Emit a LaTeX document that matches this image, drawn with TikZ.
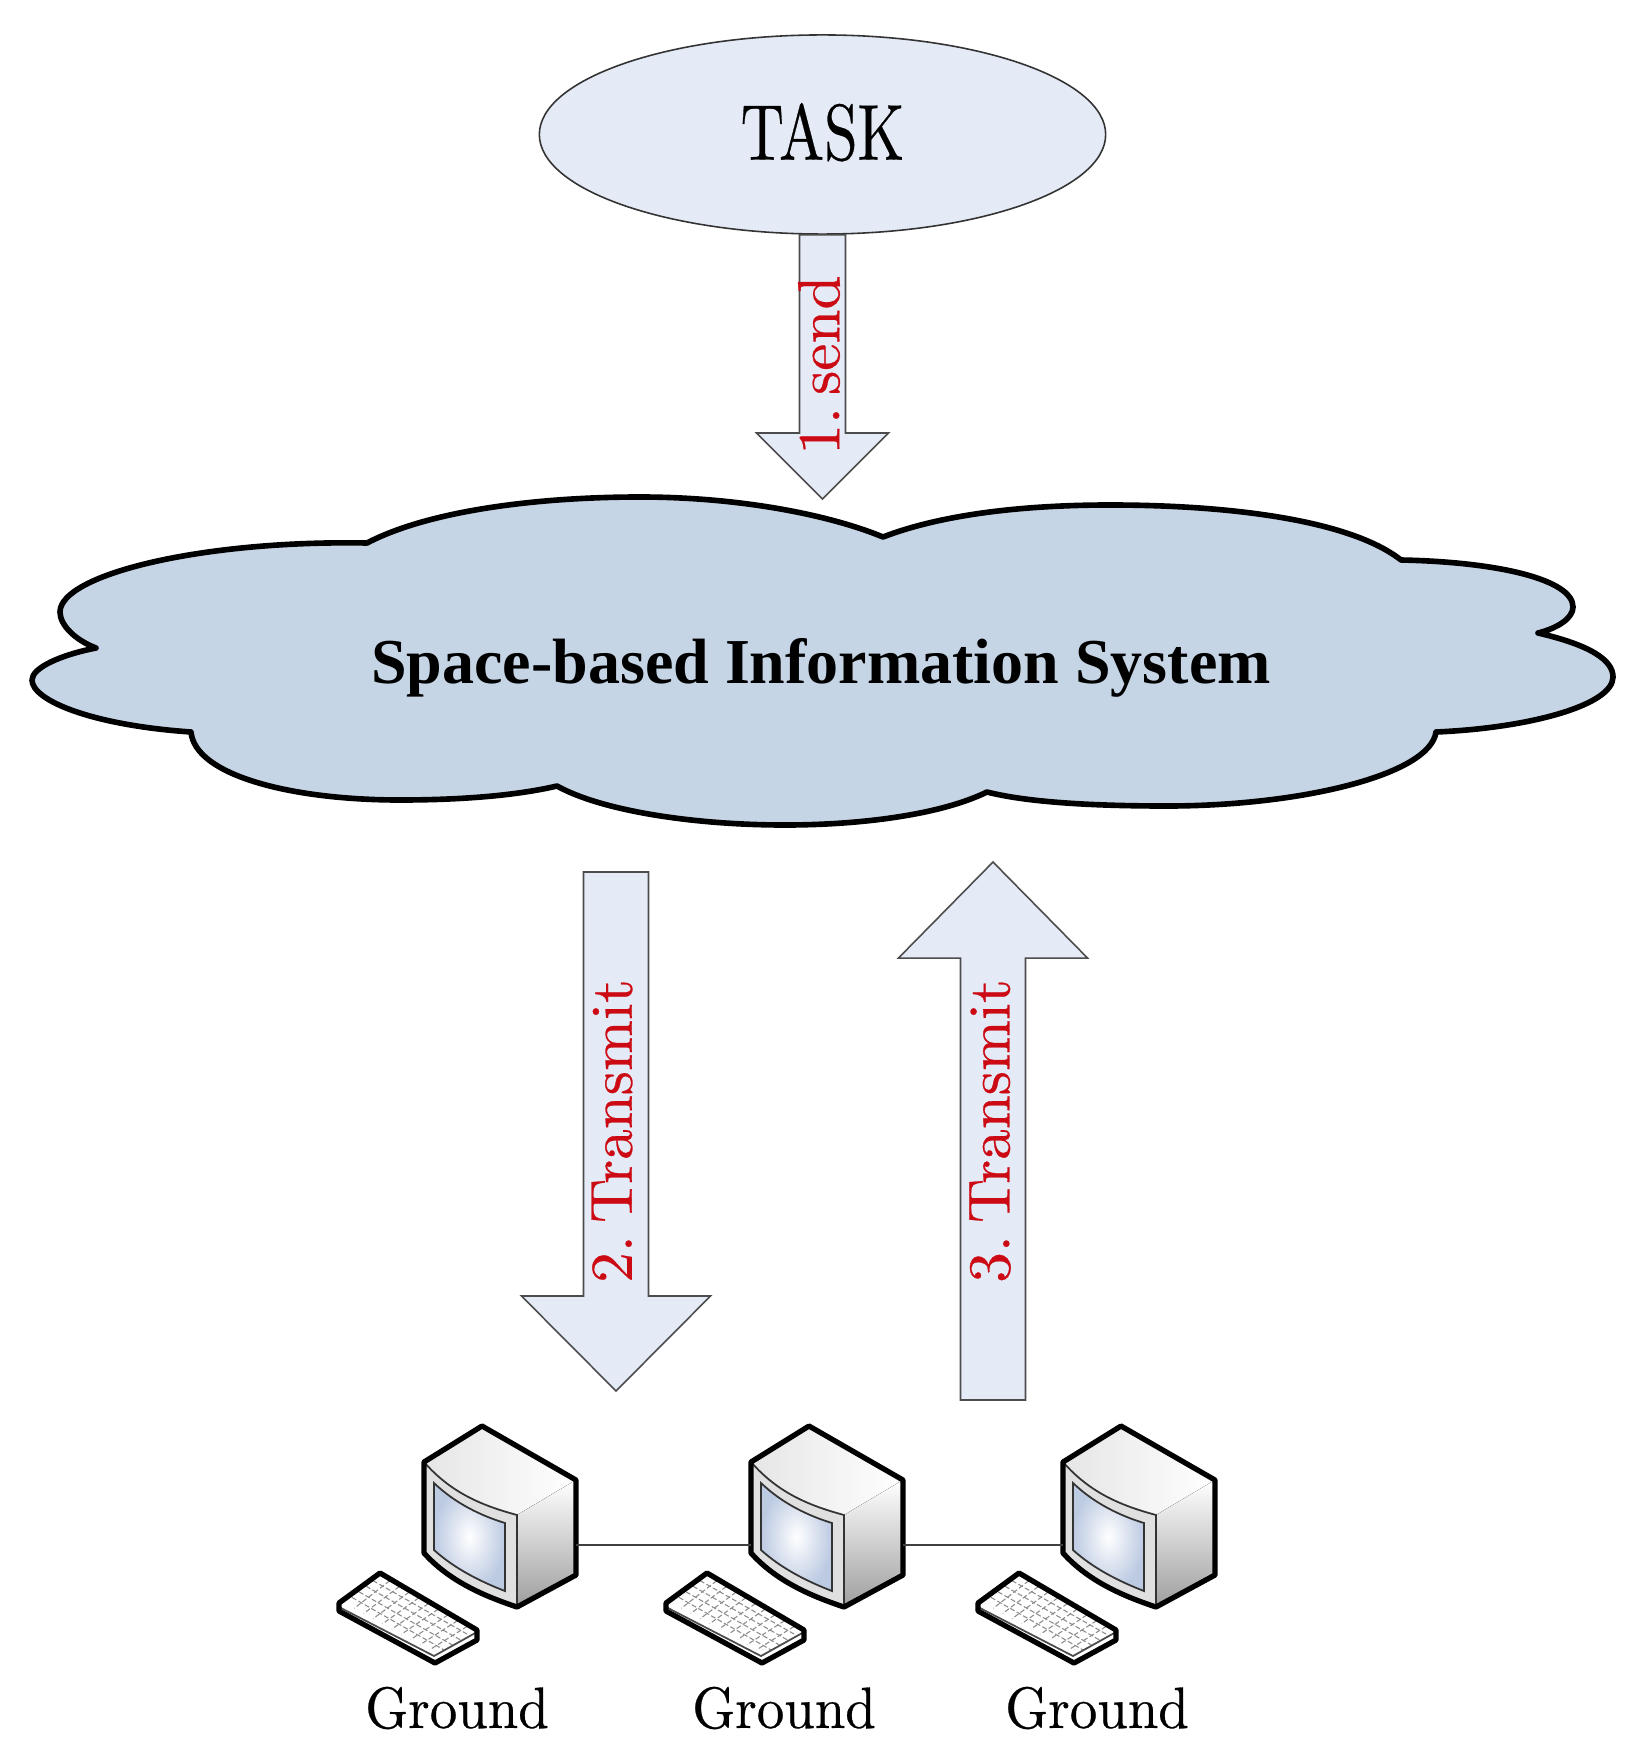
\documentclass[tikz,border=0pt]{standalone}
\usepackage{fontspec}
\usetikzlibrary{calc,shapes.geometric}
\newfontfamily\cloudfont{Liberation Serif}
\newfontfamily\labelfont{lmroman10-regular.otf}[FakeBold=0.45]
\definecolor{arrowfill}{HTML}{E4EBF6}
\definecolor{cloudfill}{HTML}{C6D5E6}
\definecolor{labelred}{HTML}{CC0A14}
\definecolor{screenblue}{HTML}{BCCAE2}
\tikzset{
  % one unit is one pixel of the reference
  x=0.01cm, y=-0.01cm,
  blockarrow/.style n args={3}{draw=black!70, line width=.45pt, fill=arrowfill, line join=miter,
    to path={
      ($(\tikztostart)!#1!90:(\tikztotarget)$)
      -- ($($(\tikztotarget)!#3!(\tikztostart)$)!#1!90:(\tikztotarget)$)
      -- ($($(\tikztotarget)!#3!(\tikztostart)$)!#2!90:(\tikztotarget)$)
      -- (\tikztotarget)
      -- ($($(\tikztotarget)!#3!(\tikztostart)$)!#2!-90:(\tikztotarget)$)
      -- ($($(\tikztotarget)!#3!(\tikztostart)$)!#1!-90:(\tikztotarget)$)
      -- ($(\tikztostart)!#1!-90:(\tikztotarget)$)
      -- cycle}},
  steplabel/.style={text=labelred, rotate=90, inner sep=0pt, font=\labelfont\fontsize{16.9}{18}\selectfont},
  groundlabel/.style={inner sep=0pt, font=\labelfont\fontsize{16.6}{18}\selectfont},
  pcline/.style={line width=1.5pt, line join=round},
  computer/.pic={
    % top and side faces
    \fill[left color=black!10, right color=white] (58,0) -- (152,54) -- (93,89)
      .. controls (60,80) and (28,68) .. (0,36) -- cycle;
    \fill[top color=white, bottom color=black!38] (152,54) -- (152,149) -- (93,181) -- (93,89) -- cycle;
    % front frame
    \fill[black!12] (0,36) .. controls (28,68) and (60,80) .. (93,89) -- (93,181)
      .. controls (60,170) and (25,155) .. (0,127) -- cycle;
    % screen
    \shade[inner color=white, outer color=screenblue, draw=black!80, line width=.5pt]
      (10,57) .. controls (32,78) and (58,90) .. (81,97) -- (81,165)
      .. controls (55,155) and (30,142) .. (10,124) -- cycle;
    \draw[black!80, line width=.5pt] (0,36) .. controls (28,68) and (60,80) .. (93,89) -- (93,181);
    \draw[pcline] (58,0) -- (152,54) -- (152,149) -- (93,181)
      .. controls (60,170) and (25,155) .. (0,127) -- (0,36) -- cycle;
    % keyboard
    \fill[white] (-44,147) -- (53,204) -- (53,214) -- (11,237) -- (-85,185) -- (-85,177) -- cycle;
    \foreach \u in {.1,.2,...,.91}
      \draw[black!45, line width=.3pt, dash pattern=on 1.4pt off .7pt]
        ({-44+97*\u},{149+57*\u}) -- ({-79+94*\u},{177+52*\u});
    \foreach \u in {.2,.4,.6,.8}
      \draw[black!45, line width=.3pt, dash pattern=on 1.4pt off .7pt]
        ({-44-35*\u},{149+28*\u}) -- ({53-41*\u},{204+25*\u});
    \draw[black!70, line width=.5pt] (-85,181) -- (10,230) -- (53,206);
    \draw[pcline] (-44,147) -- (53,204) -- (53,214) -- (11,237) -- (-85,185) -- (-85,177) -- cycle;
    \coordinate (-r) at (152,119);
    \coordinate (-l) at (0,119);
  },
}
\begin{document}
\begin{tikzpicture}
  \useasboundingbox (0,0) rectangle (1633,1761);

  % cloud
  \draw[line width=1.6pt, fill=cloudfill, line join=round]
    (367,543) .. controls (430,510) and (540,497) .. (640,497)
    .. controls (740,497) and (830,515) .. (883,537)
    .. controls (940,515) and (1020,505) .. (1110,505)
    .. controls (1230,505) and (1350,520) .. (1401,560)
    .. controls (1500,562) and (1573,580) .. (1573,607)
    .. controls (1573,618) and (1558,628) .. (1538,633)
    .. controls (1590,645) and (1613,660) .. (1613,677)
    .. controls (1613,705) and (1530,728) .. (1436,732)
    .. controls (1430,775) and (1300,806) .. (1167,806)
    .. controls (1100,806) and (1030,803) .. (987,792)
    .. controls (940,815) and (860,825) .. (785,825)
    .. controls (690,825) and (600,810) .. (557,786)
    .. controls (510,797) and (450,800) .. (400,800)
    .. controls (290,800) and (195,775) .. (191,732)
    .. controls (90,725) and (32,700) .. (32,680)
    .. controls (32,668) and (60,655) .. (96,648)
    .. controls (75,640) and (60,625) .. (60,612)
    .. controls (60,575) and (200,540) .. (367,543) -- cycle;
  \node[inner sep=0pt, font=\cloudfont\bfseries\fontsize{18.2}{20}\selectfont] (sys) at (821,668)
    {Space-based Information System};

  % task
  \node[ellipse, draw=black!80, line width=.45pt, fill=arrowfill, minimum width=5.66cm, minimum height=1.99cm, inner sep=0pt,
    font=\labelfont\fontsize{22.5}{26}\selectfont] (task) at (822.5,134.5) {\raisebox{1.8pt}{\scalebox{.76}[1]{TASK}}};

  % block arrows
  \coordinate (tip1) at (822.5,499);
  \coordinate (s2) at (616,872);
  \coordinate (tip2) at (616,1391);
  \coordinate (s3) at (993,1400);
  \coordinate (tip3) at (993,862);
  \draw[blockarrow={.23cm}{.66cm}{.66cm}] (task.south) to (tip1);
  \draw[blockarrow={.325cm}{.945cm}{.95cm}] (s2) to (tip2);
  \draw[blockarrow={.325cm}{.945cm}{.96cm}] (s3) to (tip3);

  \node[steplabel] (l1) at (819,365) {\scalebox{1.03}[1]{1.\hspace{.2em}send}};
  \node[steplabel] (l2) at (612,1131) {\scalebox{1.03}[1]{2.\hspace{.2em}Transmit}};
  \node[steplabel] (l3) at (990,1131) {\scalebox{1.03}[1]{3.\hspace{.2em}Transmit}};

  % ground stations
  \pic (pc1) at (424,1426) {computer};
  \pic (pc2) at (751,1426) {computer};
  \pic (pc3) at (1063,1426) {computer};
  \draw[black!75, line width=.45pt] (pc1-r) -- (pc2-l);
  \draw[black!75, line width=.45pt] (pc2-r) -- (pc3-l);

  \node[groundlabel] (g1) at (457,1708) {\scalebox{.94}[1]{Ground}};
  \node[groundlabel] (g2) at (784,1708) {\scalebox{.94}[1]{Ground}};
  \node[groundlabel] (g3) at (1097,1708) {\scalebox{.94}[1]{Ground}};
\end{tikzpicture}
\end{document}
